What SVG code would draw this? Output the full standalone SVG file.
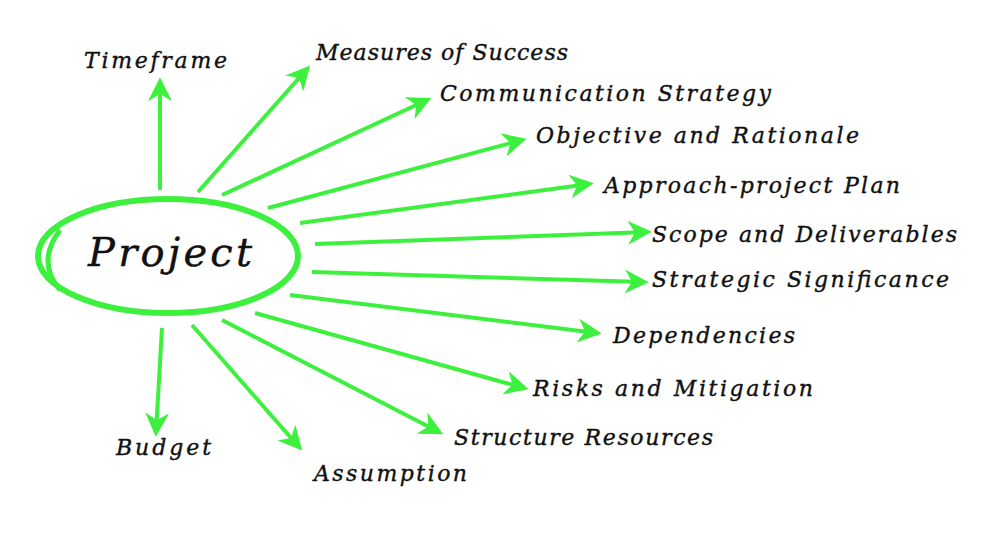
<svg xmlns="http://www.w3.org/2000/svg" width="992" height="537" viewBox="0 0 992 537">
<style>
.a{stroke:#3ef03e;stroke-width:4;fill:none;marker-end:url(#h)}
text{font-family:"DejaVu Serif","Liberation Serif",serif;font-style:italic;font-size:22px;fill:#111;stroke:#111;stroke-width:0.4}
</style>
<defs><marker id="h" viewBox="0 0 10 10" refX="8" refY="5" markerWidth="6" markerHeight="6" orient="auto" markerUnits="strokeWidth"><path d="M0,0 L10,5 L0,10 L3,5 Z" fill="#3ef03e"/></marker></defs>
<rect width="992" height="537" fill="#fff"/>
<g id="project">
<ellipse cx="168" cy="256" rx="130" ry="57" fill="none" stroke="#3ef03e" stroke-width="6"/>
<path d="M60,230 Q36,262 60,290" fill="none" stroke="#3ef03e" stroke-width="5"/>
<text x="88" y="266" textLength="164" style="font-size:40px">Project</text>
</g>
<g id="connectors">
<line class="a" x1="160" y1="190" x2="160" y2="82"/>
<line class="a" x1="198" y1="192" x2="307" y2="69"/>
<line class="a" x1="222" y1="195" x2="427" y2="100"/>
<line class="a" x1="268" y1="208" x2="522" y2="140"/>
<line class="a" x1="300" y1="223" x2="589" y2="184"/>
<line class="a" x1="315" y1="244" x2="647" y2="232"/>
<line class="a" x1="312" y1="272" x2="644" y2="282"/>
<line class="a" x1="290" y1="295" x2="597" y2="333"/>
<line class="a" x1="255" y1="313" x2="524" y2="388"/>
<line class="a" x1="222" y1="320" x2="439" y2="432"/>
<line class="a" x1="192" y1="325" x2="299" y2="447"/>
<line class="a" x1="162" y1="328" x2="156" y2="432"/>
</g>
<g id="labels">
<text x="84" y="68" textLength="143">Timeframe</text>
<text x="316" y="60" textLength="252">Measures of Success</text>
<text x="440" y="101" textLength="331">Communication Strategy</text>
<text x="536" y="143" textLength="323">Objective and Rationale</text>
<text x="604" y="193" textLength="296">Approach-project Plan</text>
<text x="652" y="242" textLength="305">Scope and Deliverables</text>
<text x="652" y="287" textLength="297">Strategic Significance</text>
<text x="613" y="343" textLength="182">Dependencies</text>
<text x="533" y="396" textLength="280">Risks and Mitigation</text>
<text x="454" y="445" textLength="259">Structure Resources</text>
<text x="314" y="481" textLength="153">Assumption</text>
<text x="116" y="455" textLength="95">Budget</text>
</g>
</svg>
